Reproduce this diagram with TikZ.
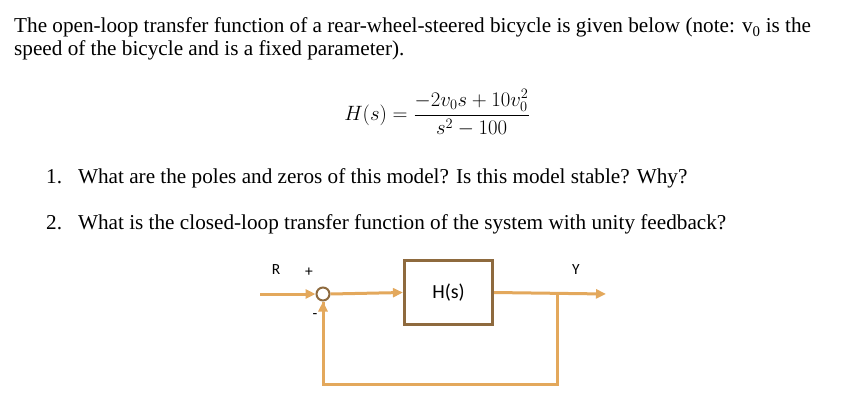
\documentclass[tikz,border=0pt]{standalone}
\usepackage{amsmath}
\usepackage{fontspec}
\setmainfont{Liberation Serif}
\newfontfamily\diagfont{Carlito}
\usetikzlibrary{arrows.meta}
\definecolor{lineor}{HTML}{E3A85C}
\definecolor{boxbr}{HTML}{8E6A3E}
\begin{document}
\begin{tikzpicture}[x=1pt,y=-1pt,
  txt/.style={anchor=base west,inner sep=0pt,font=\fontsize{21.2}{25}\selectfont},
  lbl/.style={inner sep=0pt,font=\diagfont\fontsize{15.5}{18}\selectfont},
  wire/.style={draw=lineor,line width=3pt},
  arr/.style={wire,-{Triangle[length=10pt,width=9pt]}}]
\useasboundingbox (0,0) rectangle (845,404);
\node[txt] (l1) at (14,33) {The open-loop transfer function of a rear-wheel-steered bicycle is given below (note: v\textsubscript{0} is the};
\node[txt] (l2) at (14,56) {speed of the bicycle and is a fixed parameter).};
\node[inner sep=0pt,font=\fontsize{22}{26}\selectfont] (eq) at (437,113) {$H(s)=\dfrac{-2v_0s+10v_0^2}{s^2-100}$};
\node[txt] (n1) at (46,183) {1.\hspace{16pt}What are the poles and zeros of this model? Is this model stable? Why?};
\node[txt] (n2) at (46,229) {2.\hspace{16pt}What is the closed-loop transfer function of the system with unity feedback?};
% block diagram
\node[draw=boxbr,line width=3.2pt,minimum width=88pt,minimum height=64pt,font=\diagfont\fontsize{20}{24}\selectfont] (H) at (448.5,292.5) {H(s)};
\node[draw=boxbr,line width=2pt,circle,minimum size=13pt,inner sep=0pt] (S) at (323,294) {};
\coordinate (in) at (260,294);
\coordinate (out) at (606,294);
\coordinate (br) at (557,294);
\coordinate (bl) at (557,384);
\coordinate (bs) at (323,384);
\draw[arr] (in) -- (S.west);
\draw[arr] (S.east) -- (H.west);
\draw[arr] (H.east) -- (out);
\draw[wire] (br) -- (bl) -- (bs) -- (bs |- S.south);
\draw[arr] (bs |- 0,340) -- (S.south);
\node[lbl] (R) at (276,270) {R};
\node[lbl] (p) at (309,272) {+};
\node[lbl] (m) at (315,316) {-};
\node[lbl] (Y) at (576,270) {Y};
\end{tikzpicture}
\end{document}
